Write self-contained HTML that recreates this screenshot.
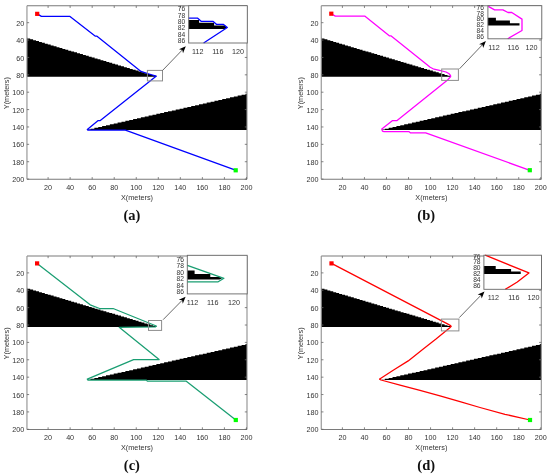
<!DOCTYPE html>
<html><head><meta charset="utf-8"><title>Path planning comparison</title>
<style>
html,body{margin:0;padding:0;background:#fff;}
body{width:550px;height:476px;overflow:hidden;}
svg{display:block;}

</style></head>
<body>
<svg width="550" height="476" viewBox="0 0 550 476">
<rect width="550" height="476" fill="#fff"/>
<g transform="translate(0,0)">
<polygon points="26.95,76.85 26.95,37.6 27.24,37.6 27.24,38.47 30.17,38.47 30.17,39.34 33.1,39.34 33.1,40.21 36.03,40.21 36.03,41.08 38.96,41.08 38.96,41.95 41.89,41.95 41.89,42.81 44.82,42.81 44.82,43.68 47.75,43.68 47.75,44.55 50.68,44.55 50.68,45.42 53.61,45.42 53.61,46.29 56.54,46.29 56.54,47.16 59.47,47.16 59.47,48.03 62.4,48.03 62.4,48.9 65.33,48.9 65.33,49.77 68.26,49.77 68.26,50.63 71.19,50.63 71.19,51.5 74.11,51.5 74.11,52.37 77.04,52.37 77.04,53.24 79.97,53.24 79.97,54.11 82.9,54.11 82.9,54.98 85.83,54.98 85.83,55.85 88.76,55.85 88.76,56.72 91.69,56.72 91.69,57.59 94.62,57.59 94.62,58.46 97.55,58.46 97.55,59.32 100.48,59.32 100.48,60.19 103.41,60.19 103.41,61.06 106.34,61.06 106.34,61.93 109.27,61.93 109.27,62.8 112.2,62.8 112.2,63.67 115.13,63.67 115.13,64.54 118.06,64.54 118.06,65.41 120.99,65.41 120.99,66.28 123.92,66.28 123.92,67.15 126.85,67.15 126.85,68.02 129.77,68.02 129.77,68.88 132.7,68.88 132.7,69.75 135.63,69.75 135.63,70.62 138.56,70.62 138.56,71.49 141.49,71.49 141.49,72.36 144.42,72.36 144.42,73.23 147.35,73.23 147.35,74.1 150.28,74.1 150.28,74.97 153.21,74.97 153.21,75.84 156.4,75.84 156.4,76.85" fill="#000"/>
<polygon points="87.4,129.9 87.4,129.5 90.5,129.5 90.5,128.63 94.37,128.63 94.37,127.76 98.25,127.76 98.25,126.89 102.12,126.89 102.12,126.02 106,126.02 106,125.16 109.87,125.16 109.87,124.29 113.74,124.29 113.74,123.42 117.62,123.42 117.62,122.55 121.49,122.55 121.49,121.68 125.37,121.68 125.37,120.81 129.24,120.81 129.24,119.94 133.11,119.94 133.11,119.07 136.99,119.07 136.99,118.2 140.86,118.2 140.86,117.33 144.74,117.33 144.74,116.47 148.61,116.47 148.61,115.6 152.48,115.6 152.48,114.73 156.36,114.73 156.36,113.86 160.23,113.86 160.23,112.99 164.11,112.99 164.11,112.12 167.98,112.12 167.98,111.25 171.86,111.25 171.86,110.38 175.73,110.38 175.73,109.51 179.6,109.51 179.6,108.64 183.48,108.64 183.48,107.78 187.35,107.78 187.35,106.91 191.23,106.91 191.23,106.04 195.1,106.04 195.1,105.17 198.97,105.17 198.97,104.3 202.85,104.3 202.85,103.43 206.72,103.43 206.72,102.56 210.6,102.56 210.6,101.69 214.47,101.69 214.47,100.82 218.34,100.82 218.34,99.95 222.22,99.95 222.22,99.09 226.09,99.09 226.09,98.22 229.97,98.22 229.97,97.35 233.84,97.35 233.84,96.48 237.71,96.48 237.71,95.61 241.59,95.61 241.59,94.74 245.46,94.74 245.46,93.87 247,93.87 247,129.9" fill="#000"/>
<path d="M26.95,5.75H247M26.95,179.3H247" stroke="#7a7a7a" stroke-width="1.1" fill="none"/>
<path d="M26.95,5.75V179.3M247,5.75V179.3" stroke="#909090" stroke-width="1.1" fill="none"/>
<path d="M48.1,179.3v-2.2M48.1,5.75v2.2M70.14,179.3v-2.2M70.14,5.75v2.2M92.18,179.3v-2.2M92.18,5.75v2.2M114.22,179.3v-2.2M114.22,5.75v2.2M136.26,179.3v-2.2M136.26,5.75v2.2M158.3,179.3v-2.2M158.3,5.75v2.2M180.34,179.3v-2.2M180.34,5.75v2.2M202.38,179.3v-2.2M202.38,5.75v2.2M224.42,179.3v-2.2M224.42,5.75v2.2M246.46,179.3v-2.2M246.46,5.75v2.2M26.95,22.68h2.2M247,22.68h-2.2M26.95,40.06h2.2M247,40.06h-2.2M26.95,57.44h2.2M247,57.44h-2.2M26.95,74.82h2.2M247,74.82h-2.2M26.95,92.2h2.2M247,92.2h-2.2M26.95,109.58h2.2M247,109.58h-2.2M26.95,126.96h2.2M247,126.96h-2.2M26.95,144.34h2.2M247,144.34h-2.2M26.95,161.72h2.2M247,161.72h-2.2M26.95,179.1h2.2M247,179.1h-2.2" stroke="#666" stroke-width="0.8" fill="none"/>
<g class="tl" font-family="'Liberation Sans', Arial, sans-serif" font-size="7.2" fill="#333"><text x="48.1" y="189.7" text-anchor="middle">20</text><text x="70.14" y="189.7" text-anchor="middle">40</text><text x="92.18" y="189.7" text-anchor="middle">60</text><text x="114.22" y="189.7" text-anchor="middle">80</text><text x="136.26" y="189.7" text-anchor="middle">100</text><text x="158.3" y="189.7" text-anchor="middle">120</text><text x="180.34" y="189.7" text-anchor="middle">140</text><text x="202.38" y="189.7" text-anchor="middle">160</text><text x="224.42" y="189.7" text-anchor="middle">180</text><text x="246.46" y="189.7" text-anchor="middle">200</text><text x="24.3" y="25.78" text-anchor="end">20</text><text x="24.3" y="43.16" text-anchor="end">40</text><text x="24.3" y="60.54" text-anchor="end">60</text><text x="24.3" y="77.92" text-anchor="end">80</text><text x="24.3" y="95.3" text-anchor="end">100</text><text x="24.3" y="112.68" text-anchor="end">120</text><text x="24.3" y="130.06" text-anchor="end">140</text><text x="24.3" y="147.44" text-anchor="end">160</text><text x="24.3" y="164.82" text-anchor="end">180</text><text x="24.3" y="182.2" text-anchor="end">200</text></g>
<text x="137" y="200.2" text-anchor="middle" font-family="'Liberation Sans', Arial, sans-serif" font-size="7.3" fill="#333">X(meters)</text>
<text transform="translate(8.8,93.2) rotate(-90)" text-anchor="middle" font-family="'Liberation Sans', Arial, sans-serif" font-size="7.3" fill="#333">Y(meters)</text>
<text x="131.9" y="220.3" text-anchor="middle" font-family="'Liberation Serif', serif" font-weight="bold" font-size="14.5" fill="#111">(a)</text>
</g>
<g transform="translate(294.3,0)">
<polygon points="26.95,76.85 26.95,37.6 27.24,37.6 27.24,38.47 30.17,38.47 30.17,39.34 33.1,39.34 33.1,40.21 36.03,40.21 36.03,41.08 38.96,41.08 38.96,41.95 41.89,41.95 41.89,42.81 44.82,42.81 44.82,43.68 47.75,43.68 47.75,44.55 50.68,44.55 50.68,45.42 53.61,45.42 53.61,46.29 56.54,46.29 56.54,47.16 59.47,47.16 59.47,48.03 62.4,48.03 62.4,48.9 65.33,48.9 65.33,49.77 68.26,49.77 68.26,50.63 71.19,50.63 71.19,51.5 74.11,51.5 74.11,52.37 77.04,52.37 77.04,53.24 79.97,53.24 79.97,54.11 82.9,54.11 82.9,54.98 85.83,54.98 85.83,55.85 88.76,55.85 88.76,56.72 91.69,56.72 91.69,57.59 94.62,57.59 94.62,58.46 97.55,58.46 97.55,59.32 100.48,59.32 100.48,60.19 103.41,60.19 103.41,61.06 106.34,61.06 106.34,61.93 109.27,61.93 109.27,62.8 112.2,62.8 112.2,63.67 115.13,63.67 115.13,64.54 118.06,64.54 118.06,65.41 120.99,65.41 120.99,66.28 123.92,66.28 123.92,67.15 126.85,67.15 126.85,68.02 129.77,68.02 129.77,68.88 132.7,68.88 132.7,69.75 135.63,69.75 135.63,70.62 138.56,70.62 138.56,71.49 141.49,71.49 141.49,72.36 144.42,72.36 144.42,73.23 147.35,73.23 147.35,74.1 150.28,74.1 150.28,74.97 153.21,74.97 153.21,75.84 156.4,75.84 156.4,76.85" fill="#000"/>
<polygon points="87.4,129.9 87.4,129.5 90.5,129.5 90.5,128.63 94.37,128.63 94.37,127.76 98.25,127.76 98.25,126.89 102.12,126.89 102.12,126.02 106,126.02 106,125.16 109.87,125.16 109.87,124.29 113.74,124.29 113.74,123.42 117.62,123.42 117.62,122.55 121.49,122.55 121.49,121.68 125.37,121.68 125.37,120.81 129.24,120.81 129.24,119.94 133.11,119.94 133.11,119.07 136.99,119.07 136.99,118.2 140.86,118.2 140.86,117.33 144.74,117.33 144.74,116.47 148.61,116.47 148.61,115.6 152.48,115.6 152.48,114.73 156.36,114.73 156.36,113.86 160.23,113.86 160.23,112.99 164.11,112.99 164.11,112.12 167.98,112.12 167.98,111.25 171.86,111.25 171.86,110.38 175.73,110.38 175.73,109.51 179.6,109.51 179.6,108.64 183.48,108.64 183.48,107.78 187.35,107.78 187.35,106.91 191.23,106.91 191.23,106.04 195.1,106.04 195.1,105.17 198.97,105.17 198.97,104.3 202.85,104.3 202.85,103.43 206.72,103.43 206.72,102.56 210.6,102.56 210.6,101.69 214.47,101.69 214.47,100.82 218.34,100.82 218.34,99.95 222.22,99.95 222.22,99.09 226.09,99.09 226.09,98.22 229.97,98.22 229.97,97.35 233.84,97.35 233.84,96.48 237.71,96.48 237.71,95.61 241.59,95.61 241.59,94.74 245.46,94.74 245.46,93.87 247,93.87 247,129.9" fill="#000"/>
<path d="M26.95,5.75H247M26.95,179.3H247" stroke="#7a7a7a" stroke-width="1.1" fill="none"/>
<path d="M26.95,5.75V179.3M247,5.75V179.3" stroke="#909090" stroke-width="1.1" fill="none"/>
<path d="M48.1,179.3v-2.2M48.1,5.75v2.2M70.14,179.3v-2.2M70.14,5.75v2.2M92.18,179.3v-2.2M92.18,5.75v2.2M114.22,179.3v-2.2M114.22,5.75v2.2M136.26,179.3v-2.2M136.26,5.75v2.2M158.3,179.3v-2.2M158.3,5.75v2.2M180.34,179.3v-2.2M180.34,5.75v2.2M202.38,179.3v-2.2M202.38,5.75v2.2M224.42,179.3v-2.2M224.42,5.75v2.2M246.46,179.3v-2.2M246.46,5.75v2.2M26.95,22.68h2.2M247,22.68h-2.2M26.95,40.06h2.2M247,40.06h-2.2M26.95,57.44h2.2M247,57.44h-2.2M26.95,74.82h2.2M247,74.82h-2.2M26.95,92.2h2.2M247,92.2h-2.2M26.95,109.58h2.2M247,109.58h-2.2M26.95,126.96h2.2M247,126.96h-2.2M26.95,144.34h2.2M247,144.34h-2.2M26.95,161.72h2.2M247,161.72h-2.2M26.95,179.1h2.2M247,179.1h-2.2" stroke="#666" stroke-width="0.8" fill="none"/>
<g class="tl" font-family="'Liberation Sans', Arial, sans-serif" font-size="7.2" fill="#333"><text x="48.1" y="189.7" text-anchor="middle">20</text><text x="70.14" y="189.7" text-anchor="middle">40</text><text x="92.18" y="189.7" text-anchor="middle">60</text><text x="114.22" y="189.7" text-anchor="middle">80</text><text x="136.26" y="189.7" text-anchor="middle">100</text><text x="158.3" y="189.7" text-anchor="middle">120</text><text x="180.34" y="189.7" text-anchor="middle">140</text><text x="202.38" y="189.7" text-anchor="middle">160</text><text x="224.42" y="189.7" text-anchor="middle">180</text><text x="246.46" y="189.7" text-anchor="middle">200</text><text x="24.3" y="25.78" text-anchor="end">20</text><text x="24.3" y="43.16" text-anchor="end">40</text><text x="24.3" y="60.54" text-anchor="end">60</text><text x="24.3" y="77.92" text-anchor="end">80</text><text x="24.3" y="95.3" text-anchor="end">100</text><text x="24.3" y="112.68" text-anchor="end">120</text><text x="24.3" y="130.06" text-anchor="end">140</text><text x="24.3" y="147.44" text-anchor="end">160</text><text x="24.3" y="164.82" text-anchor="end">180</text><text x="24.3" y="182.2" text-anchor="end">200</text></g>
<text x="137" y="200.2" text-anchor="middle" font-family="'Liberation Sans', Arial, sans-serif" font-size="7.3" fill="#333">X(meters)</text>
<text transform="translate(8.8,93.2) rotate(-90)" text-anchor="middle" font-family="'Liberation Sans', Arial, sans-serif" font-size="7.3" fill="#333">Y(meters)</text>
<text x="131.9" y="220.3" text-anchor="middle" font-family="'Liberation Serif', serif" font-weight="bold" font-size="14.5" fill="#111">(b)</text>
</g>
<g transform="translate(0,250.2)">
<polygon points="26.95,76.85 26.95,37.6 27.24,37.6 27.24,38.47 30.17,38.47 30.17,39.34 33.1,39.34 33.1,40.21 36.03,40.21 36.03,41.08 38.96,41.08 38.96,41.95 41.89,41.95 41.89,42.81 44.82,42.81 44.82,43.68 47.75,43.68 47.75,44.55 50.68,44.55 50.68,45.42 53.61,45.42 53.61,46.29 56.54,46.29 56.54,47.16 59.47,47.16 59.47,48.03 62.4,48.03 62.4,48.9 65.33,48.9 65.33,49.77 68.26,49.77 68.26,50.63 71.19,50.63 71.19,51.5 74.11,51.5 74.11,52.37 77.04,52.37 77.04,53.24 79.97,53.24 79.97,54.11 82.9,54.11 82.9,54.98 85.83,54.98 85.83,55.85 88.76,55.85 88.76,56.72 91.69,56.72 91.69,57.59 94.62,57.59 94.62,58.46 97.55,58.46 97.55,59.32 100.48,59.32 100.48,60.19 103.41,60.19 103.41,61.06 106.34,61.06 106.34,61.93 109.27,61.93 109.27,62.8 112.2,62.8 112.2,63.67 115.13,63.67 115.13,64.54 118.06,64.54 118.06,65.41 120.99,65.41 120.99,66.28 123.92,66.28 123.92,67.15 126.85,67.15 126.85,68.02 129.77,68.02 129.77,68.88 132.7,68.88 132.7,69.75 135.63,69.75 135.63,70.62 138.56,70.62 138.56,71.49 141.49,71.49 141.49,72.36 144.42,72.36 144.42,73.23 147.35,73.23 147.35,74.1 150.28,74.1 150.28,74.97 153.21,74.97 153.21,75.84 156.4,75.84 156.4,76.85" fill="#000"/>
<polygon points="87.4,129.9 87.4,129.5 90.5,129.5 90.5,128.63 94.37,128.63 94.37,127.76 98.25,127.76 98.25,126.89 102.12,126.89 102.12,126.02 106,126.02 106,125.16 109.87,125.16 109.87,124.29 113.74,124.29 113.74,123.42 117.62,123.42 117.62,122.55 121.49,122.55 121.49,121.68 125.37,121.68 125.37,120.81 129.24,120.81 129.24,119.94 133.11,119.94 133.11,119.07 136.99,119.07 136.99,118.2 140.86,118.2 140.86,117.33 144.74,117.33 144.74,116.47 148.61,116.47 148.61,115.6 152.48,115.6 152.48,114.73 156.36,114.73 156.36,113.86 160.23,113.86 160.23,112.99 164.11,112.99 164.11,112.12 167.98,112.12 167.98,111.25 171.86,111.25 171.86,110.38 175.73,110.38 175.73,109.51 179.6,109.51 179.6,108.64 183.48,108.64 183.48,107.78 187.35,107.78 187.35,106.91 191.23,106.91 191.23,106.04 195.1,106.04 195.1,105.17 198.97,105.17 198.97,104.3 202.85,104.3 202.85,103.43 206.72,103.43 206.72,102.56 210.6,102.56 210.6,101.69 214.47,101.69 214.47,100.82 218.34,100.82 218.34,99.95 222.22,99.95 222.22,99.09 226.09,99.09 226.09,98.22 229.97,98.22 229.97,97.35 233.84,97.35 233.84,96.48 237.71,96.48 237.71,95.61 241.59,95.61 241.59,94.74 245.46,94.74 245.46,93.87 247,93.87 247,129.9" fill="#000"/>
<path d="M26.95,5.75H247M26.95,179.3H247" stroke="#7a7a7a" stroke-width="1.1" fill="none"/>
<path d="M26.95,5.75V179.3M247,5.75V179.3" stroke="#909090" stroke-width="1.1" fill="none"/>
<path d="M48.1,179.3v-2.2M48.1,5.75v2.2M70.14,179.3v-2.2M70.14,5.75v2.2M92.18,179.3v-2.2M92.18,5.75v2.2M114.22,179.3v-2.2M114.22,5.75v2.2M136.26,179.3v-2.2M136.26,5.75v2.2M158.3,179.3v-2.2M158.3,5.75v2.2M180.34,179.3v-2.2M180.34,5.75v2.2M202.38,179.3v-2.2M202.38,5.75v2.2M224.42,179.3v-2.2M224.42,5.75v2.2M246.46,179.3v-2.2M246.46,5.75v2.2M26.95,22.68h2.2M247,22.68h-2.2M26.95,40.06h2.2M247,40.06h-2.2M26.95,57.44h2.2M247,57.44h-2.2M26.95,74.82h2.2M247,74.82h-2.2M26.95,92.2h2.2M247,92.2h-2.2M26.95,109.58h2.2M247,109.58h-2.2M26.95,126.96h2.2M247,126.96h-2.2M26.95,144.34h2.2M247,144.34h-2.2M26.95,161.72h2.2M247,161.72h-2.2M26.95,179.1h2.2M247,179.1h-2.2" stroke="#666" stroke-width="0.8" fill="none"/>
<g class="tl" font-family="'Liberation Sans', Arial, sans-serif" font-size="7.2" fill="#333"><text x="48.1" y="189.7" text-anchor="middle">20</text><text x="70.14" y="189.7" text-anchor="middle">40</text><text x="92.18" y="189.7" text-anchor="middle">60</text><text x="114.22" y="189.7" text-anchor="middle">80</text><text x="136.26" y="189.7" text-anchor="middle">100</text><text x="158.3" y="189.7" text-anchor="middle">120</text><text x="180.34" y="189.7" text-anchor="middle">140</text><text x="202.38" y="189.7" text-anchor="middle">160</text><text x="224.42" y="189.7" text-anchor="middle">180</text><text x="246.46" y="189.7" text-anchor="middle">200</text><text x="24.3" y="25.78" text-anchor="end">20</text><text x="24.3" y="43.16" text-anchor="end">40</text><text x="24.3" y="60.54" text-anchor="end">60</text><text x="24.3" y="77.92" text-anchor="end">80</text><text x="24.3" y="95.3" text-anchor="end">100</text><text x="24.3" y="112.68" text-anchor="end">120</text><text x="24.3" y="130.06" text-anchor="end">140</text><text x="24.3" y="147.44" text-anchor="end">160</text><text x="24.3" y="164.82" text-anchor="end">180</text><text x="24.3" y="182.2" text-anchor="end">200</text></g>
<text x="137" y="200.2" text-anchor="middle" font-family="'Liberation Sans', Arial, sans-serif" font-size="7.3" fill="#333">X(meters)</text>
<text transform="translate(8.8,93.2) rotate(-90)" text-anchor="middle" font-family="'Liberation Sans', Arial, sans-serif" font-size="7.3" fill="#333">Y(meters)</text>
<text x="131.9" y="220.3" text-anchor="middle" font-family="'Liberation Serif', serif" font-weight="bold" font-size="14.5" fill="#111">(c)</text>
</g>
<g transform="translate(294.3,250.2)">
<polygon points="26.95,76.85 26.95,37.6 27.24,37.6 27.24,38.47 30.17,38.47 30.17,39.34 33.1,39.34 33.1,40.21 36.03,40.21 36.03,41.08 38.96,41.08 38.96,41.95 41.89,41.95 41.89,42.81 44.82,42.81 44.82,43.68 47.75,43.68 47.75,44.55 50.68,44.55 50.68,45.42 53.61,45.42 53.61,46.29 56.54,46.29 56.54,47.16 59.47,47.16 59.47,48.03 62.4,48.03 62.4,48.9 65.33,48.9 65.33,49.77 68.26,49.77 68.26,50.63 71.19,50.63 71.19,51.5 74.11,51.5 74.11,52.37 77.04,52.37 77.04,53.24 79.97,53.24 79.97,54.11 82.9,54.11 82.9,54.98 85.83,54.98 85.83,55.85 88.76,55.85 88.76,56.72 91.69,56.72 91.69,57.59 94.62,57.59 94.62,58.46 97.55,58.46 97.55,59.32 100.48,59.32 100.48,60.19 103.41,60.19 103.41,61.06 106.34,61.06 106.34,61.93 109.27,61.93 109.27,62.8 112.2,62.8 112.2,63.67 115.13,63.67 115.13,64.54 118.06,64.54 118.06,65.41 120.99,65.41 120.99,66.28 123.92,66.28 123.92,67.15 126.85,67.15 126.85,68.02 129.77,68.02 129.77,68.88 132.7,68.88 132.7,69.75 135.63,69.75 135.63,70.62 138.56,70.62 138.56,71.49 141.49,71.49 141.49,72.36 144.42,72.36 144.42,73.23 147.35,73.23 147.35,74.1 150.28,74.1 150.28,74.97 153.21,74.97 153.21,75.84 156.4,75.84 156.4,76.85" fill="#000"/>
<polygon points="87.4,129.9 87.4,129.5 90.5,129.5 90.5,128.63 94.37,128.63 94.37,127.76 98.25,127.76 98.25,126.89 102.12,126.89 102.12,126.02 106,126.02 106,125.16 109.87,125.16 109.87,124.29 113.74,124.29 113.74,123.42 117.62,123.42 117.62,122.55 121.49,122.55 121.49,121.68 125.37,121.68 125.37,120.81 129.24,120.81 129.24,119.94 133.11,119.94 133.11,119.07 136.99,119.07 136.99,118.2 140.86,118.2 140.86,117.33 144.74,117.33 144.74,116.47 148.61,116.47 148.61,115.6 152.48,115.6 152.48,114.73 156.36,114.73 156.36,113.86 160.23,113.86 160.23,112.99 164.11,112.99 164.11,112.12 167.98,112.12 167.98,111.25 171.86,111.25 171.86,110.38 175.73,110.38 175.73,109.51 179.6,109.51 179.6,108.64 183.48,108.64 183.48,107.78 187.35,107.78 187.35,106.91 191.23,106.91 191.23,106.04 195.1,106.04 195.1,105.17 198.97,105.17 198.97,104.3 202.85,104.3 202.85,103.43 206.72,103.43 206.72,102.56 210.6,102.56 210.6,101.69 214.47,101.69 214.47,100.82 218.34,100.82 218.34,99.95 222.22,99.95 222.22,99.09 226.09,99.09 226.09,98.22 229.97,98.22 229.97,97.35 233.84,97.35 233.84,96.48 237.71,96.48 237.71,95.61 241.59,95.61 241.59,94.74 245.46,94.74 245.46,93.87 247,93.87 247,129.9" fill="#000"/>
<path d="M26.95,5.75H247M26.95,179.3H247" stroke="#7a7a7a" stroke-width="1.1" fill="none"/>
<path d="M26.95,5.75V179.3M247,5.75V179.3" stroke="#909090" stroke-width="1.1" fill="none"/>
<path d="M48.1,179.3v-2.2M48.1,5.75v2.2M70.14,179.3v-2.2M70.14,5.75v2.2M92.18,179.3v-2.2M92.18,5.75v2.2M114.22,179.3v-2.2M114.22,5.75v2.2M136.26,179.3v-2.2M136.26,5.75v2.2M158.3,179.3v-2.2M158.3,5.75v2.2M180.34,179.3v-2.2M180.34,5.75v2.2M202.38,179.3v-2.2M202.38,5.75v2.2M224.42,179.3v-2.2M224.42,5.75v2.2M246.46,179.3v-2.2M246.46,5.75v2.2M26.95,22.68h2.2M247,22.68h-2.2M26.95,40.06h2.2M247,40.06h-2.2M26.95,57.44h2.2M247,57.44h-2.2M26.95,74.82h2.2M247,74.82h-2.2M26.95,92.2h2.2M247,92.2h-2.2M26.95,109.58h2.2M247,109.58h-2.2M26.95,126.96h2.2M247,126.96h-2.2M26.95,144.34h2.2M247,144.34h-2.2M26.95,161.72h2.2M247,161.72h-2.2M26.95,179.1h2.2M247,179.1h-2.2" stroke="#666" stroke-width="0.8" fill="none"/>
<g class="tl" font-family="'Liberation Sans', Arial, sans-serif" font-size="7.2" fill="#333"><text x="48.1" y="189.7" text-anchor="middle">20</text><text x="70.14" y="189.7" text-anchor="middle">40</text><text x="92.18" y="189.7" text-anchor="middle">60</text><text x="114.22" y="189.7" text-anchor="middle">80</text><text x="136.26" y="189.7" text-anchor="middle">100</text><text x="158.3" y="189.7" text-anchor="middle">120</text><text x="180.34" y="189.7" text-anchor="middle">140</text><text x="202.38" y="189.7" text-anchor="middle">160</text><text x="224.42" y="189.7" text-anchor="middle">180</text><text x="246.46" y="189.7" text-anchor="middle">200</text><text x="24.3" y="25.78" text-anchor="end">20</text><text x="24.3" y="43.16" text-anchor="end">40</text><text x="24.3" y="60.54" text-anchor="end">60</text><text x="24.3" y="77.92" text-anchor="end">80</text><text x="24.3" y="95.3" text-anchor="end">100</text><text x="24.3" y="112.68" text-anchor="end">120</text><text x="24.3" y="130.06" text-anchor="end">140</text><text x="24.3" y="147.44" text-anchor="end">160</text><text x="24.3" y="164.82" text-anchor="end">180</text><text x="24.3" y="182.2" text-anchor="end">200</text></g>
<text x="137" y="200.2" text-anchor="middle" font-family="'Liberation Sans', Arial, sans-serif" font-size="7.3" fill="#333">X(meters)</text>
<text transform="translate(8.8,93.2) rotate(-90)" text-anchor="middle" font-family="'Liberation Sans', Arial, sans-serif" font-size="7.3" fill="#333">Y(meters)</text>
<text x="131.9" y="220.3" text-anchor="middle" font-family="'Liberation Serif', serif" font-weight="bold" font-size="14.5" fill="#111">(d)</text>
</g>
<polyline points="37.2,13.9 41.4,16.4 70,16.4 95.4,36.2 97,36.2 141,71.4 149.1,74 156.1,76.2 100.3,120.5 98.2,120.5 87.3,129.6 87.8,130.1 125.4,130.1 235.5,170.2" fill="none" stroke="#0000ff" stroke-width="1.25" stroke-linejoin="round"/>
<rect x="147.4" y="70.4" width="15.1" height="10.5" fill="none" stroke="#8c8c8c" stroke-width="1"/>
<line x1="162.6" y1="70.4" x2="182.33" y2="49.9" stroke="#444" stroke-width="0.8"/><polygon points="185.8,46.3 183.03,53.21 182.33,49.9 179,49.33" fill="#000"/>
<rect x="188.7" y="5.7" width="58.6" height="37.3" fill="#fff" stroke="none"/>
<polygon points="188.7,20 199.1,20 199.1,22.7 214.1,22.7 214.1,25.6 225,25.6 226.6,27.4 225,29.1 188.7,29.1" fill="#000"/>
<polyline points="188.7,18.2 197.7,18.2 201.4,21.4 213.2,21.4 216.4,24.3 223.2,24.3 227.3,27.5 203.6,43" fill="none" stroke="#0000ff" stroke-width="1.3" stroke-linejoin="round"/>
<rect x="188.7" y="5.7" width="58.6" height="37.3" fill="none" stroke="#666" stroke-width="0.9"/>
<g class="tl" font-family="'Liberation Sans', Arial, sans-serif" font-size="7.2" fill="#333"><text x="185.2" y="11.2" text-anchor="end" font-size="6.7">76</text><text x="185.2" y="17.6" text-anchor="end" font-size="6.7">78</text><text x="185.2" y="24" text-anchor="end" font-size="6.7">80</text><text x="185.2" y="30.4" text-anchor="end" font-size="6.7">82</text><text x="185.2" y="36.8" text-anchor="end" font-size="6.7">84</text><text x="185.2" y="43.2" text-anchor="end" font-size="6.7">86</text><text x="197.8" y="53.7" text-anchor="middle">112</text><text x="217.9" y="53.7" text-anchor="middle">116</text><text x="237.9" y="53.7" text-anchor="middle">120</text></g>
<rect x="35.1" y="11.75" width="4.2" height="4.2" fill="#ff0000"/>
<rect x="233.6" y="168.2" width="4.2" height="4.2" fill="#00ff00"/>
<polyline points="331.3,13.7 335.3,16.1 364.7,16.1 389.6,35.9 391.2,35.9 430.2,67.2 434,69.2 438.5,70.1 446,72 449.2,73.8 450.5,75.4 450.7,76.6 447.9,79.7 397.1,120.5 392.6,120.5 381.8,128.9 382.4,131.2 384,131.7 408.8,131.6 410.6,132.9 425.7,132.9 529.2,170.1" fill="none" stroke="#ff00ff" stroke-width="1.25" stroke-linejoin="round"/>
<rect x="441.7" y="69" width="16.7" height="11.4" fill="none" stroke="#8c8c8c" stroke-width="1"/>
<line x1="459.5" y1="68.8" x2="482.45" y2="44.72" stroke="#444" stroke-width="0.8"/><polygon points="485.9,41.1 483.17,48.03 482.45,44.72 479.11,44.16" fill="#000"/>
<rect x="487.9" y="5.7" width="53.9" height="33.1" fill="#fff" stroke="none"/>
<polygon points="487.9,17.8 495.9,17.8 495.9,20.4 509.9,20.4 509.9,23.3 519.5,23.3 519.5,25.5 487.9,25.5" fill="#000"/>
<polyline points="488.3,6.4 494.6,9.9 502.9,9.9 508,12.5 511.8,12.5 522,19.1 522,30.5 507.7,38.8" fill="none" stroke="#ff00ff" stroke-width="1.3" stroke-linejoin="round"/>
<rect x="487.9" y="5.7" width="53.9" height="33.1" fill="none" stroke="#666" stroke-width="0.9"/>
<g class="tl" font-family="'Liberation Sans', Arial, sans-serif" font-size="7.2" fill="#333"><text x="484" y="9.9" text-anchor="end" font-size="6.7">76</text><text x="484" y="15.65" text-anchor="end" font-size="6.7">78</text><text x="484" y="21.4" text-anchor="end" font-size="6.7">80</text><text x="484" y="27.15" text-anchor="end" font-size="6.7">82</text><text x="484" y="32.9" text-anchor="end" font-size="6.7">84</text><text x="484" y="38.65" text-anchor="end" font-size="6.7">86</text><text x="494" y="49.8" text-anchor="middle">112</text><text x="513.2" y="49.8" text-anchor="middle">116</text><text x="531.5" y="49.8" text-anchor="middle">120</text></g>
<rect x="329.2" y="11.6" width="4.2" height="4.2" fill="#ff0000"/>
<rect x="527.7" y="168.1" width="4.2" height="4.2" fill="#00ff00"/>
<polyline points="37.1,263.4 90.2,304.8 99.6,308.5 113.1,308.5 156.3,326 155.5,326.8 119.2,327.3 159.1,359.6 133.6,359.6 87.3,379.1 88,380.1 146.4,380.1 147.5,381.2 186.3,381.2 235.8,420" fill="none" stroke="#1a9e72" stroke-width="1.25" stroke-linejoin="round"/>
<rect x="148.5" y="320.5" width="13.1" height="9.9" fill="none" stroke="#8c8c8c" stroke-width="1"/>
<line x1="163.1" y1="319.7" x2="182.1" y2="300.37" stroke="#444" stroke-width="0.8"/><polygon points="185.6,296.8 182.76,303.68 182.1,300.37 178.77,299.76" fill="#000"/>
<rect x="187.3" y="255.3" width="59.9" height="38.6" fill="#fff" stroke="none"/>
<polygon points="187.3,270.4 194.6,270.4 194.6,273.9 210.3,273.9 210.3,277.1 219.5,277.1 222,278.3 219.5,279.5 187.3,279.5" fill="#000"/>
<polyline points="187.3,265.3 223.9,278.3 218.2,281.8 187.3,281.8" fill="none" stroke="#1a9e72" stroke-width="1.3" stroke-linejoin="round"/>
<rect x="187.3" y="255.3" width="59.9" height="38.6" fill="none" stroke="#666" stroke-width="0.9"/>
<g class="tl" font-family="'Liberation Sans', Arial, sans-serif" font-size="7.2" fill="#333"><text x="183.9" y="261.8" text-anchor="end" font-size="6.7">76</text><text x="183.9" y="268.3" text-anchor="end" font-size="6.7">78</text><text x="183.9" y="274.8" text-anchor="end" font-size="6.7">80</text><text x="183.9" y="281.3" text-anchor="end" font-size="6.7">82</text><text x="183.9" y="287.8" text-anchor="end" font-size="6.7">84</text><text x="183.9" y="294.3" text-anchor="end" font-size="6.7">86</text><text x="192.5" y="304.7" text-anchor="middle">112</text><text x="212.8" y="304.7" text-anchor="middle">116</text><text x="234.1" y="304.7" text-anchor="middle">120</text></g>
<rect x="35" y="261.3" width="4.2" height="4.2" fill="#ff0000"/>
<rect x="233.7" y="417.9" width="4.2" height="4.2" fill="#00ff00"/>
<polyline points="331.5,263.4 447,323.6 450.6,325.6 451.2,326.4 449.8,327.8 436,339 424.5,347.9 408.2,360.9 393.6,370 380.9,378.2 379.6,379.1 381,380 400,385.1 420,390.4 440,395.9 460,401.6 480,407.5 505,414.3 530,420" fill="none" stroke="#ff0000" stroke-width="1.25" stroke-linejoin="round"/>
<rect x="441.4" y="319.1" width="17.5" height="11.8" fill="none" stroke="#8c8c8c" stroke-width="1"/>
<line x1="459.3" y1="317.6" x2="481.02" y2="295.19" stroke="#444" stroke-width="0.8"/><polygon points="484.5,291.6 481.71,298.5 481.02,295.19 477.69,294.61" fill="#000"/>
<rect x="483.9" y="255.2" width="57.6" height="34.1" fill="#fff" stroke="none"/>
<polygon points="483.9,266.1 495.7,266.1 495.7,269.1 511.1,269.1 511.1,271.5 520.7,271.5 520.7,273.9 483.9,273.9" fill="#000"/>
<polyline points="485.2,255.2 528.9,272.9 517.3,282 505.3,289.3" fill="none" stroke="#ff0000" stroke-width="1.3" stroke-linejoin="round"/>
<rect x="483.9" y="255.2" width="57.6" height="34.1" fill="none" stroke="#666" stroke-width="0.9"/>
<g class="tl" font-family="'Liberation Sans', Arial, sans-serif" font-size="7.2" fill="#333"><text x="480.6" y="258.5" text-anchor="end" font-size="6.7">76</text><text x="480.6" y="264.3" text-anchor="end" font-size="6.7">78</text><text x="480.6" y="270.1" text-anchor="end" font-size="6.7">80</text><text x="480.6" y="275.9" text-anchor="end" font-size="6.7">82</text><text x="480.6" y="281.7" text-anchor="end" font-size="6.7">84</text><text x="480.6" y="287.5" text-anchor="end" font-size="6.7">86</text><text x="493.4" y="299.7" text-anchor="middle">112</text><text x="513.9" y="299.7" text-anchor="middle">116</text><text x="533.6" y="299.7" text-anchor="middle">120</text></g>
<rect x="329.4" y="261.3" width="4.2" height="4.2" fill="#ff0000"/>
<rect x="527.9" y="417.9" width="4.2" height="4.2" fill="#00ff00"/>
</svg>
</body></html>
